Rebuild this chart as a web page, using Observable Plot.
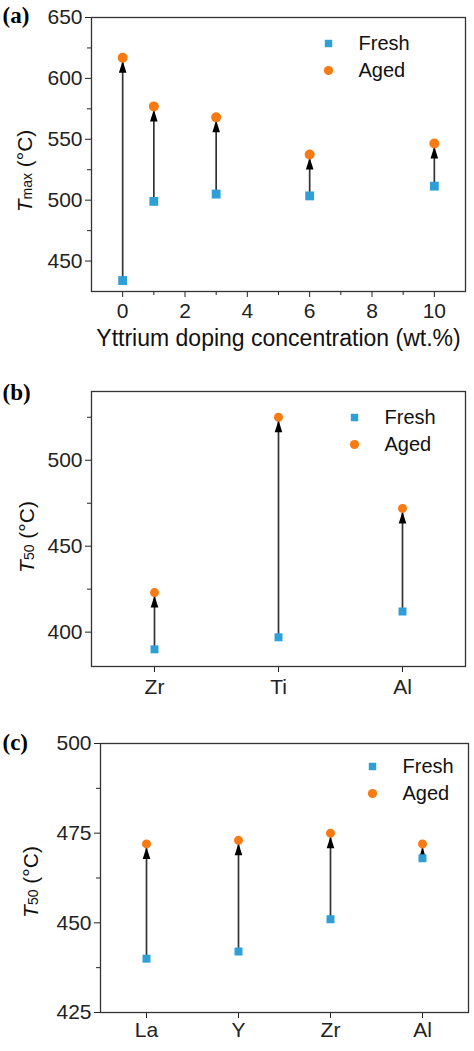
<!DOCTYPE html>
<html>
<head>
<meta charset="utf-8">
<script src="https://cdn.jsdelivr.net/npm/d3@7"></script>
<script src="https://cdn.jsdelivr.net/npm/@observablehq/plot@0.6"></script>
<style>
  html, body { margin: 0; padding: 0; background: #fff; }
  #figure { width: 474px; }
  #figure svg { display: block; }
</style>
</head>
<body>
<div id="figure"></div>
<script>
// (a) Tmax vs yttrium doping
const dopingA = [0, 1, 3, 6, 10];
const freshA = [434, 499, 505, 503.5, 511.5];
const agedA = [617, 577, 568, 537.5, 546.5];
const xTicksA = [0, 2, 4, 6, 8, 10];
const xMinorA = [1, 3, 5, 7, 9];
const yTicksA = [450, 500, 550, 600, 650];
const yMinorA = [475, 525, 575, 625];

// (b) T50 by dopant
const dopantsB = ["Zr", "Ti", "Al"];
const freshB = [390, 397, 412];
const agedB = [423, 525, 472];
const yTicksB = [400, 450, 500];
const yMinorB = [425, 475, 525];

// (c) T50 by dopant
const dopantsC = ["La", "Y", "Zr", "Al"];
const freshC = [440, 442, 451, 468];
const agedC = [472, 473, 475, 472];
const yTicksC = [425, 450, 475, 500];
const yMinorC = [437.5, 462.5, 487.5];

const seriesNames = ["Fresh", "Aged"];

const BLUE = "#2f9fd8";
const ORANGE = "#f77a12";
const INK = "#222";
const FONT = "Liberation Sans, Arial, sans-serif";

// filled arrowhead with its tip at the origin, pointing up
const arrowHead = {
  draw(ctx) {
    ctx.moveTo(0, 0);
    ctx.lineTo(-3.8, 12);
    ctx.lineTo(3.8, 12);
    ctx.closePath();
  }
};

function panel(cfg) {
  const rows = cfg.keys.map((k, i) => ({key: k, fresh: cfg.fresh[i], aged: cfg.aged[i]}));
  const xAxes = cfg.xMinor
    ? [
        Plot.axisX({ticks: cfg.xTicks, tickSize: 6, tickPadding: cfg.tickPadX, label: null}),
        Plot.axisX({ticks: cfg.xMinor, tickSize: 4, tickFormat: () => "", label: null})
      ]
    : [Plot.axisX({tickSize: 6, tickPadding: cfg.tickPadX, label: null})];

  const legendText = (name, dy) =>
    Plot.text([name], {frameAnchor: "top-left", lineAnchor: "middle", textAnchor: "start",
      dx: cfg.legX + 30, dy, fontSize: 20, fill: "#111"});

  const svg = Plot.plot({
    width: 474,
    height: cfg.height,
    marginTop: cfg.mt,
    marginBottom: cfg.mb,
    marginLeft: cfg.ml,
    marginRight: cfg.mr,
    style: {fontFamily: FONT, fontSize: "21px", color: INK, background: "#fff", overflow: "visible"},
    x: cfg.x,
    y: {domain: cfg.yDomain, label: null},
    marks: [
      Plot.axisY({ticks: cfg.yTicks, tickSize: 6, tickPadding: 3, tickFormat: d => String(d), label: null}),
      Plot.axisY({ticks: cfg.yMinor, tickSize: 4, tickFormat: () => "", label: null}),
      ...xAxes,
      Plot.frame({stroke: "#333", strokeWidth: 1.3}),
      // shift from fresh to aged
      Plot.ruleX(rows, {x: "key", y1: "fresh", y2: "aged", stroke: "#333", strokeWidth: 1.7}),
      Plot.dot(rows, {x: "key", y: "aged", symbol: arrowHead, fill: "#000", r: 1, dy: cfg.tipOffset}),
      Plot.dot(rows, {x: "key", y: "fresh", symbol: "square", fill: BLUE, r: cfg.r}),
      Plot.dot(rows, {x: "key", y: "aged", symbol: "circle", fill: ORANGE, r: cfg.r}),
      // legend
      Plot.dot([seriesNames[0]], {frameAnchor: "top-left", dx: cfg.legX, dy: cfg.legY, symbol: "square", fill: BLUE, r: 4.2}),
      Plot.dot([seriesNames[1]], {frameAnchor: "top-left", dx: cfg.legX, dy: cfg.legY + 27, symbol: "circle", fill: ORANGE, r: 4.6}),
      legendText(seriesNames[0], cfg.legY),
      legendText(seriesNames[1], cfg.legY + 27),
      // panel letter
      Plot.text([cfg.letter], {frameAnchor: "top-left", lineAnchor: "middle", textAnchor: "start",
        dx: 2 - cfg.ml, dy: cfg.letterDy,
        fontFamily: "Liberation Serif, Times New Roman, serif", fontWeight: "bold", fontSize: 23, fill: "#000"}),
      ...(cfg.xLabel
        ? [Plot.text([cfg.xLabel], {frameAnchor: "bottom", lineAnchor: "middle", dy: cfg.xLabelDy, fontSize: 23, fill: "#111"})]
        : [])
    ]
  });

  // rotated y title with italic T and subscript
  const t = d3.select(svg).append("text")
    .attr("transform", `translate(${cfg.yLabelX},${cfg.yLabelY}) rotate(-90)`)
    .attr("text-anchor", "middle")
    .attr("dominant-baseline", "middle")
    .attr("font-family", FONT)
    .attr("font-size", 21)
    .attr("fill", "#111");
  t.append("tspan").attr("font-style", "italic").text("T");
  t.append("tspan").attr("font-size", 14).attr("dy", 2).text(cfg.sub);
  t.append("tspan").attr("dy", -2).text(" (°C)");
  return svg;
}

const fig = document.getElementById("figure");

fig.appendChild(panel({
  letter: "(a)", letterDy: -2, sub: "max",
  keys: dopingA, fresh: freshA, aged: agedA,
  height: 350, mt: 17, mb: 59, ml: 91, mr: 9,
  x: {type: "linear", domain: [-1, 11]},
  xTicks: xTicksA, xMinor: xMinorA, tickPadX: 6,
  yDomain: [425, 650], yTicks: yTicksA, yMinor: yMinorA,
  r: 5, tipOffset: 3,
  legX: 237, legY: 26,
  yLabelX: 26, yLabelY: 171,
  xLabel: "Yttrium doping concentration (wt.%)", xLabelDy: 47
}));

fig.appendChild(panel({
  letter: "(b)", letterDy: 1, sub: "50",
  keys: dopantsB, fresh: freshB, aged: agedB,
  height: 360, mt: 41, mb: 44, ml: 91, mr: 9,
  x: {type: "point", domain: dopantsB, padding: 0.5},
  tickPadX: 7,
  yDomain: [380, 540], yTicks: yTicksB, yMinor: yMinorB,
  r: 4.5, tipOffset: 3,
  legX: 263, legY: 26,
  yLabelX: 28, yLabelY: 187
}));

fig.appendChild(panel({
  letter: "(c)", letterDy: -1, sub: "50",
  keys: dopantsC, fresh: freshC, aged: agedC,
  height: 341, mt: 33, mb: 39, ml: 100, mr: 6,
  x: {type: "point", domain: dopantsC, padding: 0.5},
  tickPadX: 4,
  yDomain: [425, 500], yTicks: yTicksC, yMinor: yMinorC,
  r: 4.5, tipOffset: 3,
  legX: 272, legY: 23,
  yLabelX: 32, yLabelY: 172
}));
</script>
</body>
</html>
